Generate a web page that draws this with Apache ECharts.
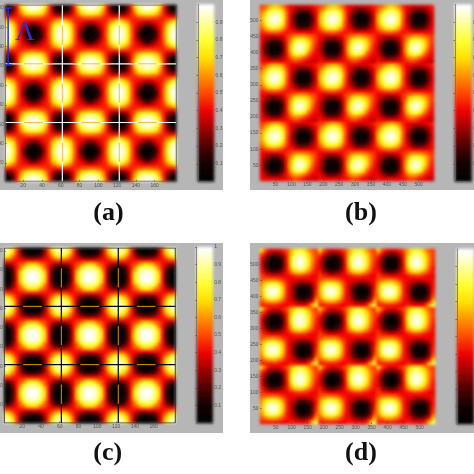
<!DOCTYPE html>
<html><head><meta charset="utf-8">
<style>html,body{margin:0;padding:0;background:#fff;overflow:hidden}
#h,#t{position:absolute;left:0;top:0;width:474px;height:474px}
#h{filter:blur(1.5px)}#t{filter:blur(0.45px)}
.bg{position:absolute;background:#b6b6b6}</style>
<script src="https://cdn.jsdelivr.net/npm/echarts@6/dist/echarts.min.js"></script>
</head><body>
<div class="bg" style="left:0;top:0;width:223px;height:190px"></div>
<div class="bg" style="left:250px;top:0;width:224px;height:190px"></div>
<div class="bg" style="left:0;top:243px;width:223px;height:190px"></div>
<div class="bg" style="left:250px;top:243px;width:224px;height:190px"></div>
<div id="h"></div><div id="t"></div>
<script>
// One repeating tile per panel (percent of full scale, rows from the top)
const tileA = [
[3,8,24,46,72,88,96,99,99,96,88,72,46,24,8,3],
[8,12,26,44,64,80,88,92,92,88,80,64,44,26,12,8],
[24,26,34,44,56,68,74,76,76,74,68,56,44,34,26,24],
[46,44,44,45,46,50,52,54,54,52,50,46,45,44,44,46],
[72,64,56,46,43,42,40,38,38,40,42,43,46,56,64,72],
[88,80,68,50,42,36,28,20,20,28,36,42,50,68,80,88],
[96,88,74,52,40,28,15,8,8,15,28,40,52,74,88,96],
[99,92,76,54,38,20,8,2,2,8,20,38,54,76,92,99],
[99,92,76,54,38,20,8,2,2,8,20,38,54,76,92,99],
[96,88,74,52,40,28,15,8,8,15,28,40,52,74,88,96],
[88,80,68,50,42,36,28,20,20,28,36,42,50,68,80,88],
[72,64,56,46,43,42,40,38,38,40,42,43,46,56,64,72],
[46,44,44,45,46,50,52,54,54,52,50,46,45,44,44,46],
[24,26,34,44,56,68,74,76,76,74,68,56,44,34,26,24],
[8,12,26,44,64,80,88,92,92,88,80,64,44,26,12,8],
[3,8,24,46,72,88,96,99,99,96,88,72,46,24,8,3]];
const tileB = [
[48,52,60,66,68,64,56,46,40,38,36,36,36,38,40,44],
[52,62,74,80,82,78,66,50,40,33,25,21,21,25,33,40],
[58,72,84,90,92,88,74,54,38,26,14,9,9,14,26,38],
[62,78,90,97,98,92,78,54,36,22,8,3,2,8,22,36],
[62,78,90,97,98,92,76,52,36,22,8,2,2,8,22,36],
[58,72,84,90,90,84,70,50,38,26,14,9,9,14,26,38],
[52,62,72,76,76,70,60,46,40,33,25,21,21,25,33,40],
[44,48,52,54,54,50,46,42,44,42,40,40,40,40,40,42],
[40,38,36,36,36,38,40,46,50,56,60,60,58,54,50,46],
[40,33,25,21,21,25,33,44,58,70,78,78,74,66,56,48],
[38,26,14,9,9,14,26,44,64,80,90,90,84,72,58,46],
[36,22,8,3,2,8,22,44,68,86,96,97,88,72,56,44],
[36,22,8,2,2,8,22,44,68,84,94,94,84,66,50,42],
[38,26,14,9,9,14,27,42,62,76,82,80,70,54,44,40],
[40,34,26,22,22,26,34,42,52,60,62,58,50,44,40,38],
[42,40,40,40,40,40,40,42,44,48,48,44,40,38,36,34]];
const tileC = [
[95,88,74,50,28,10,3,0,0,3,10,28,50,74,88,95],
[88,82,68,48,30,14,6,2,2,6,14,30,48,68,82,88],
[74,68,56,44,36,26,20,18,18,20,26,36,44,56,68,74],
[50,48,44,42,42,42,42,42,42,42,42,42,42,44,48,50],
[28,30,36,42,50,54,66,70,70,66,54,50,42,36,30,28],
[10,14,26,42,54,70,82,85,85,82,70,54,42,26,14,10],
[3,6,20,42,66,82,94,96,96,94,82,66,42,20,6,3],
[0,2,18,42,70,85,96,100,100,96,85,70,42,18,2,0],
[0,2,18,42,70,85,96,100,100,96,85,70,42,18,2,0],
[3,6,20,42,66,82,94,96,96,94,82,66,42,20,6,3],
[10,14,26,42,54,70,82,85,85,82,70,54,42,26,14,10],
[28,30,36,42,50,54,66,70,70,66,54,50,42,36,30,28],
[50,48,44,42,42,42,42,42,42,42,42,42,42,44,48,50],
[74,68,56,44,36,26,20,18,18,20,26,36,44,56,68,74],
[88,82,68,48,30,14,6,2,2,6,14,30,48,68,82,88],
[95,88,74,50,28,10,3,0,0,3,10,28,50,74,88,95]];
const tileD = [
[70,52,42,38,38,40,44,50,62,72,78,78,70,60,52,48],
[52,40,30,24,22,26,34,46,66,80,88,88,80,68,56,48],
[42,30,15,9,9,14,26,44,70,86,94,94,86,72,58,48],
[38,24,9,3,2,8,22,44,72,90,98,98,90,74,58,46],
[38,22,9,2,2,8,22,42,70,88,97,97,88,72,56,44],
[40,26,14,9,9,14,26,42,64,80,88,88,80,66,52,42],
[44,34,26,22,22,26,33,42,54,64,68,68,62,54,46,42],
[48,44,42,40,40,40,40,40,42,44,46,46,44,42,40,40],
[50,54,56,58,56,52,46,42,40,40,38,38,38,40,40,42],
[58,70,76,78,76,68,56,44,38,33,26,22,22,26,33,42],
[62,80,90,92,90,80,64,44,36,24,14,9,9,14,26,42],
[64,84,96,99,96,84,66,44,36,22,8,3,2,8,24,44],
[62,82,94,97,94,82,64,44,36,22,8,2,2,9,24,46],
[58,72,82,86,82,72,58,42,38,26,15,10,10,16,28,52],
[50,56,62,64,62,56,48,42,40,34,27,24,24,30,42,66],
[44,44,44,44,44,42,40,40,44,42,40,40,40,46,66,84]];
const tileRepeats = 3;
const colorLevels = [0,2,4,6,8,10,12,14,16,18,20,22,24,26,28,30,32,34,36,38,40,42,44,46,48,50,52,54,56,58,60,62,64,66,68,70,72,74,76,78,80,82,84,86,88,90,92,94,96,98,100];
const colorbarTicks = [0.1,0.2,0.3,0.4,0.5,0.6,0.7,0.8,0.9];
const colorbarTicksC = [0.1,0.2,0.3,0.4,0.5,0.6,0.7,0.8,0.9,1];
const ticks180X = [20,40,60,80,100,120,140,160];
const ticks180Y = [20,40,60,80,100,120,140,160,180];
const ticks540 = [50,100,150,200,250,300,350,400,450,500];
const seamsAC = [61.7,122.3];
const seamBright = [[1,21],[41,82],[102,142],[162,183]];
const seamMid = [[21,41],[82,102],[142,162]];
const hotRamp = ['#000000','#150000','#500000','#a00000','#f00000','#ff4800','#ff9000','#ffe000','#ffff30','#ffff98','#ffffff'];

const panels = [
 {tile:tileA,name:'(a)',px:[5.3,5,171,176.3],cb:[198,4.5,16,177],range:[1,183],xt:ticks180X,yt:ticks180Y,ct:colorbarTicks,frame:'#555',seamA:'#ffffff',seamB:'#ffb040',lab:[108.5,213]},
 {tile:tileB,name:'(b)',px:[260,5,174,176],cb:[455,4.5,16.5,177],range:[1,548],xt:ticks540,yt:ticks540,ct:colorbarTicks,lab:[361,213]},
 {tile:tileC,name:'(c)',px:[4.3,248,171,175],cb:[196.7,247,16,176],range:[1,183],xt:ticks180X,yt:ticks180Y,ct:colorbarTicksC,frame:'#222',seamA:'#000000',seamB:'#ffa000',lab:[107.7,453.7]},
 {tile:tileD,name:'(d)',px:[260,249,175,175],cb:[457,249,18,175],range:[1,548],xt:ticks540,yt:ticks540,ct:colorbarTicks,lab:[361,453.7]}
];
const heat={grid:[],xAxis:[],yAxis:[],series:[]},top_={grid:[],xAxis:[],yAxis:[],series:[]},gfx=[];
const labelStyle={fontSize:5,color:'#555',fontFamily:'Liberation Sans',margin:1.5};
function addAxes(L,r,xo,yo){L.grid.push({left:r[0],top:r[1],width:r[2],height:r[3],outerBoundsMode:'none'});const g=L.grid.length-1;
  L.xAxis.push(Object.assign({gridIndex:g},xo));L.yAxis.push(Object.assign({gridIndex:g},yo));return g;}
function cats(n){const a=[];for(let i=0;i<n;i++)a.push(i);return a;}
const hidden={type:'category',show:false};
panels.forEach(p=>{
  gfx.push({type:'text',x:p.lab[0],y:p.lab[1],style:{text:p.name,font:'bold 26px "Liberation Serif"',fill:'#111',textAlign:'center',textVerticalAlign:'middle'}});
  const n=p.tile.length*tileRepeats,d=[];
  for(let r=0;r<n;r++)for(let c=0;c<n;c++)d.push([c,r,p.tile[r%p.tile.length][c%p.tile.length]]);
  let g=addAxes(heat,p.px,Object.assign({data:cats(n)},hidden),Object.assign({data:cats(n),inverse:true},hidden));
  heat.series.push({type:'heatmap',xAxisIndex:g,yAxisIndex:g,data:d,progressive:0,silent:true,animation:false});
  const mk=(t,pos)=>({type:'value',min:p.range[0],max:p.range[1],position:pos,splitLine:{show:false},
    axisLine:{show:false},axisTick:{show:true,inside:true,length:1.5,lineStyle:{color:'#444',width:.6},customValues:t},
    axisLabel:Object.assign({customValues:t,hideOverlap:false},labelStyle)});
  g=addAxes(top_,p.px,mk(p.xt,'bottom'),mk(p.yt,'left'));
  const line=(data,color,width)=>top_.series.push({type:'line',xAxisIndex:g,yAxisIndex:g,data,symbol:'none',silent:true,animation:false,lineStyle:{color,width},connectNulls:false});
  if(p.seamA){
    const build=(ranges,vert)=>{const o=[];seamsAC.forEach(s=>ranges.forEach(q=>{
      if(vert){o.push([s,q[0]],[s,q[1]],['-','-']);}else{o.push([q[0],s],[q[1],s],['-','-']);}}));return o;};
    line(build(seamBright,true),p.seamA,1.2);line(build(seamBright,false),p.seamA,1.2);
    line(build(seamMid,true),p.seamB,.9);line(build(seamMid,false),p.seamB,.9);
    const m=p.range;line([[m[0],m[0]],[m[1],m[0]],[m[1],m[1]],[m[0],m[1]],[m[0],m[0]]],p.frame,.8);
  }
  if(p===panels[0]){
    line([[4,180],[4,121]],'#2a2ad8',1.5);line([[1,180],[8,180]],'#2a2ad8',1.5);line([[1,121],[8,121]],'#2a2ad8',1.5);
    gfx.push({type:'text',x:25,y:33,z:20,style:{text:'\u039b',font:'27px "Liberation Serif"',fill:'#3a2ac8',textAlign:'center',textVerticalAlign:'middle'}});
  }
  g=addAxes(heat,p.cb,Object.assign({data:[0]},hidden),Object.assign({data:colorLevels},hidden));
  heat.series.push({type:'heatmap',xAxisIndex:g,yAxisIndex:g,data:colorLevels.map((v,i)=>[0,i,v]),progressive:0,silent:true,animation:false});
  g=addAxes(top_,p.cb,{type:'value',min:0,max:1,position:'top',axisLabel:{show:false},axisTick:{show:false},splitLine:{show:false},axisLine:{show:true,lineStyle:{color:'#666',width:.7}}},
    {type:'value',min:0,max:1,position:'right',splitLine:{show:false},axisLine:{show:true,lineStyle:{color:'#666',width:.7}},
     axisTick:{show:true,inside:true,length:1.5,lineStyle:{color:'#444',width:.6},customValues:p.ct},
     axisLabel:Object.assign({customValues:p.ct,formatter:v=>String(v)},labelStyle)});
});
const hc=echarts.init(document.getElementById('h'),null,{renderer:'canvas',width:474,height:474});
hc.setOption(Object.assign({animation:false,backgroundColor:'transparent',
  visualMap:{show:false,min:0,max:100,inRange:{color:hotRamp}}},heat));
const tc=echarts.init(document.getElementById('t'),null,{renderer:'canvas',width:474,height:474});
tc.setOption(Object.assign({animation:false,backgroundColor:'transparent',graphic:{elements:gfx}},top_));
</script></body></html>
